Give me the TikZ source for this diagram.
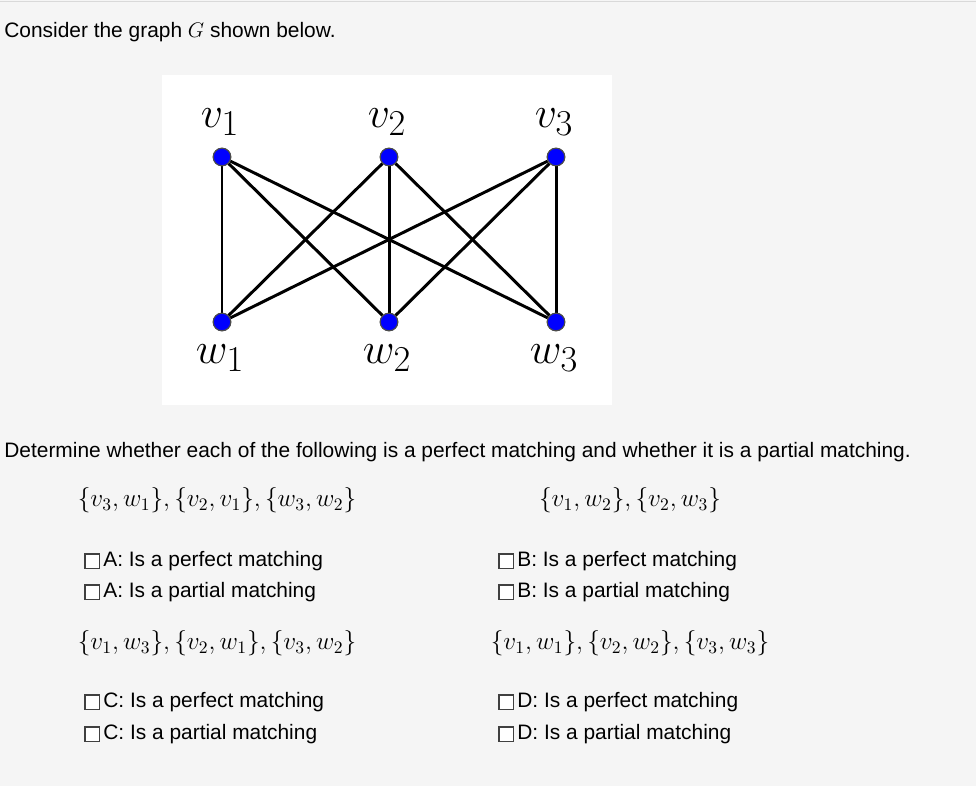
\documentclass[tikz,border=0pt]{standalone}
\usepackage{fontspec}
\setmainfont{Liberation Sans}
\begin{document}
\begin{tikzpicture}[x=0.02cm,y=-0.02cm,
  vert/.style={circle,fill=blue,draw=black!70,line width=0.6pt,inner sep=0pt,minimum size=10pt},
  edge/.style={line width=1.7pt,black},
  lab/.style={font=\fontsize{29}{32}\selectfont},
  txt/.style={font=\fontsize{11.9}{14}\selectfont,anchor=west,inner sep=0pt},
  mset/.style={font=\fontsize{14}{16}\selectfont,inner sep=0pt},
  cb/.style={draw=black!75,line width=0.6pt,fill=white,minimum size=8pt,inner sep=0pt}]
\useasboundingbox (0,0) rectangle (976,786);
\fill[gray!8] (0,0) rectangle (976,786);
\draw[gray!30] (0,1) -- (976,1);
\fill[white] (162,75) rectangle (612,405);
\node[txt] (t1) at (4,32) {Consider the graph $G$ shown below.};
\node[vert] (v1) at (222,157) {};
\node[vert] (v2) at (389,157) {};
\node[vert] (v3) at (556,157) {};
\node[vert] (w1) at (222,322) {};
\node[vert] (w2) at (389,322) {};
\node[vert] (w3) at (556,322) {};
\foreach \a in {v1,v2,v3}{\foreach \b in {w1,w2,w3}{\draw[edge] (\a) -- (\b);}}
\foreach \a in {v1,v2,v3,w1,w2,w3}{\node[vert] at (\a) {};}
\node[lab] (lv1) at (220,122) {$v_1$};
\node[lab] (lv2) at (387,122) {$v_2$};
\node[lab] (lv3) at (554,122) {$v_3$};
\node[lab] (lw1) at (220,358) {$w_1$};
\node[lab] (lw2) at (387,358) {$w_2$};
\node[lab] (lw3) at (554,358) {$w_3$};
\node[txt] (t2) at (4,452) {Determine whether each of the following is a perfect matching and whether it is a partial matching.};
\node[mset] (sa) at (217,500) {$\{v_3,w_1\},\{v_2,v_1\},\{w_3,w_2\}$};
\node[mset] (sb) at (630,500) {$\{v_1,w_2\},\{v_2,w_3\}$};
\node[mset] (sc) at (217,643) {$\{v_1,w_3\},\{v_2,w_1\},\{v_3,w_2\}$};
\node[mset] (sd) at (630,643) {$\{v_1,w_1\},\{v_2,w_2\},\{v_3,w_3\}$};
\foreach \x/\y/\l in {92/561/A: Is a perfect matching,92/592/A: Is a partial matching,506/561/B: Is a perfect matching,506/592/B: Is a partial matching,92/702/C: Is a perfect matching,92/734/C: Is a partial matching,506/702/D: Is a perfect matching,506/734/D: Is a partial matching}{
  \node[cb] at (\x,\y) {};
  \node[txt] at (\x+11,\y) {\l};
}
\end{tikzpicture}
\end{document}
